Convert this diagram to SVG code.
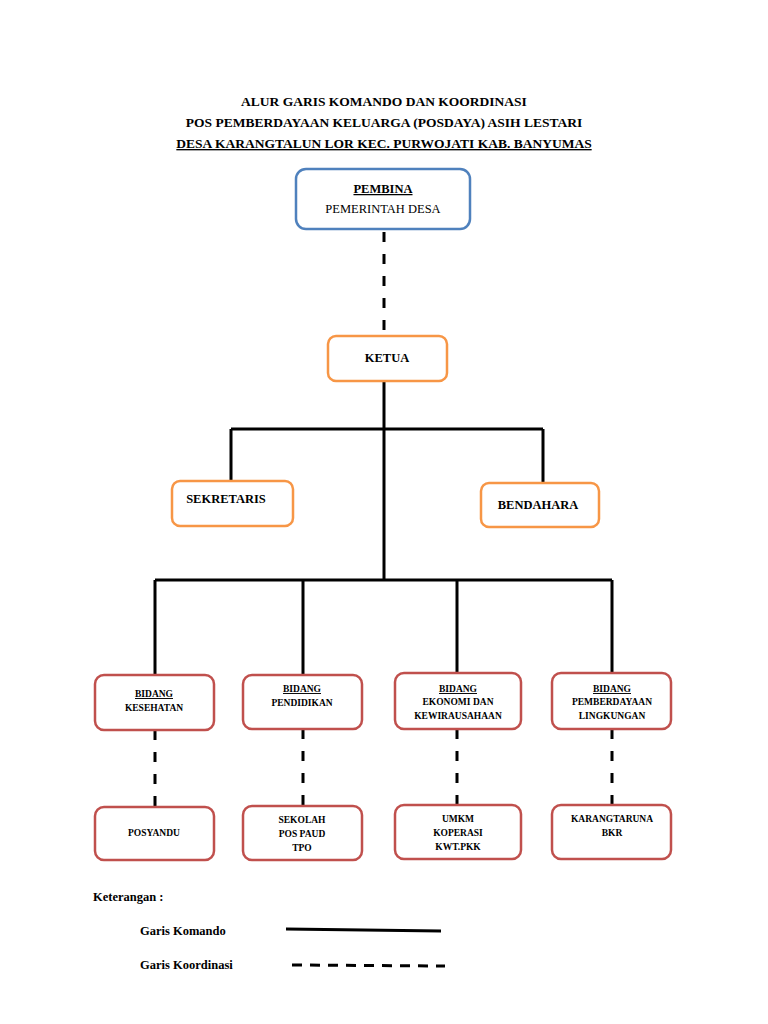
<svg xmlns="http://www.w3.org/2000/svg" width="768" height="1024" viewBox="0 0 768 1024">
<style>
text{font-family:"Liberation Serif","Times New Roman",serif;font-weight:bold;fill:#000;text-anchor:middle}
.t{font-size:13.5px}
.s{font-size:9.5px}
.m{font-size:12.5px}
.u{text-decoration:underline}
.box{fill:#fff;stroke-width:2.5}
.b{stroke:#4f81bd}.o{stroke:#f79646}.r{stroke:#c0504d}
.solid{stroke:#000;stroke-width:3;fill:none}
.dash{stroke:#000;stroke-width:3;fill:none;stroke-dasharray:10,12}
</style>
<rect width="768" height="1024" fill="#fff"/>
<g id="title">
<text class="t" x="384" y="106">ALUR GARIS KOMANDO DAN KOORDINASI</text>
<text class="t" x="384" y="127">POS PEMBERDAYAAN KELUARGA (POSDAYA) ASIH LESTARI</text>
<text class="t u" x="384" y="148">DESA KARANGTALUN LOR KEC. PURWOJATI KAB. BANYUMAS</text>
</g>
<g id="connectors">
<path class="dash" d="M384 232V335"/>
<path class="solid" d="M384 381V580M231 429H543M231 429V482M543 429V484M155 580H612M155 580V675M303 580V675M457 580V673M612 580V673"/>
<path class="dash" d="M155 730V807M303 729V806M457 729V805M612 729V805"/>
</g>
<g id="pembina"><rect class="box b" x="296" y="169" width="174" height="60" rx="10"/>
<text class="m u" x="383" y="193">PEMBINA</text><text class="m" x="383" y="213" style="font-weight:normal">PEMERINTAH DESA</text></g>
<g id="ketua"><rect class="box o" x="328" y="336" width="119" height="45" rx="8"/><text class="m" x="387" y="362">KETUA</text></g>
<g id="sekretaris"><rect class="box o" x="172" y="481" width="121" height="45" rx="8"/><text class="m" x="226" y="503">SEKRETARIS</text></g>
<g id="bendahara"><rect class="box o" x="481" y="483" width="118" height="44" rx="8"/><text class="m" x="538" y="509">BENDAHARA</text></g>
<g id="bidang-kesehatan"><rect class="box r" x="95" y="675" width="119" height="55" rx="9"/><text class="s u" x="154" y="697">BIDANG</text><text class="s" x="154" y="711">KESEHATAN</text></g>
<g id="bidang-pendidikan"><rect class="box r" x="243" y="675" width="119" height="54" rx="9"/><text class="s u" x="302" y="692">BIDANG</text><text class="s" x="302" y="706">PENDIDIKAN</text></g>
<g id="bidang-ekonomi"><rect class="box r" x="395" y="673" width="126" height="56" rx="9"/><text class="s u" x="458" y="692">BIDANG</text><text class="s" x="458" y="705">EKONOMI DAN</text><text class="s" x="458" y="719">KEWIRAUSAHAAN</text></g>
<g id="bidang-lingkungan"><rect class="box r" x="552" y="673" width="119" height="56" rx="9"/><text class="s u" x="612" y="692">BIDANG</text><text class="s" x="612" y="705">PEMBERDAYAAN</text><text class="s" x="612" y="719">LINGKUNGAN</text></g>
<g id="posyandu"><rect class="box r" x="95" y="807" width="119" height="53" rx="9"/><text class="s" x="154" y="836">POSYANDU</text></g>
<g id="sekolah"><rect class="box r" x="243" y="806" width="119" height="54" rx="9"/><text class="s" x="302" y="823">SEKOLAH</text><text class="s" x="302" y="837">POS PAUD</text><text class="s" x="302" y="851">TPO</text></g>
<g id="umkm"><rect class="box r" x="395" y="805" width="126" height="54" rx="9"/><text class="s" x="458" y="822">UMKM</text><text class="s" x="458" y="836">KOPERASI</text><text class="s" x="458" y="850">KWT.PKK</text></g>
<g id="karangtaruna"><rect class="box r" x="552" y="805" width="119" height="54" rx="9"/><text class="s" x="612" y="822">KARANGTARUNA</text><text class="s" x="612" y="836">BKR</text></g>
<g id="legend">
<text class="m" x="93" y="901" style="text-anchor:start">Keterangan :</text>
<text class="m" x="140" y="935" style="text-anchor:start">Garis Komando</text>
<text class="m" x="140" y="969" style="text-anchor:start">Garis Koordinasi</text>
<path class="solid" d="M286 929L441 931"/>
<path class="dash" d="M292 965L445 966" style="stroke-dasharray:10,8"/>
</g>
</svg>
